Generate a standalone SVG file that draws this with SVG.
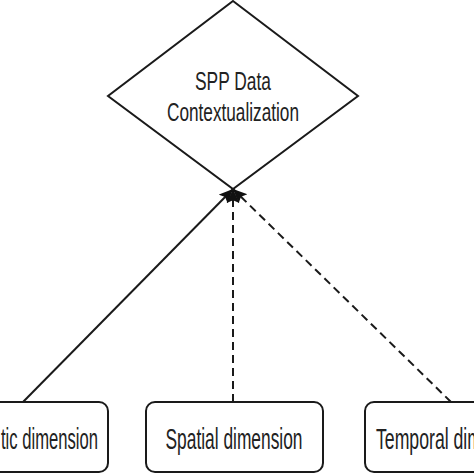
<svg xmlns="http://www.w3.org/2000/svg" width="474" height="474" viewBox="0 0 474 474">
<defs>
<style>
.shape{fill:#ffffff;stroke:#1a1a1a;stroke-width:2}
.conn{fill:none;stroke:#1a1a1a;stroke-width:2}
.dash{stroke-dasharray:8 5}
.lbl{font-family:"Liberation Sans",Arial,sans-serif;fill:#222222;text-anchor:middle}
</style>
<marker id="arr" viewBox="0 0 10 10" refX="10" refY="5" markerWidth="7" markerHeight="7" markerUnits="strokeWidth" orient="auto">
<path d="M0,0.5 L10,5 L0,9.5 L2,5 z" fill="#111111"/>
</marker>
</defs>
<rect width="474" height="474" fill="#ffffff"/>
<g id="connectors">
<line class="conn" x1="23" y1="402" x2="233" y2="189" marker-end="url(#arr)"/>
<line class="conn dash" x1="233" y1="402" x2="233" y2="189" marker-end="url(#arr)"/>
<line class="conn dash" x1="451" y1="402" x2="233" y2="189" marker-end="url(#arr)"/>
</g>
<g id="spp">
<polygon class="shape" points="233,1 358,96 233,189 108,96"/>
<text class="lbl" x="233" y="90" font-size="26" textLength="76" lengthAdjust="spacingAndGlyphs">SPP Data</text>
<text class="lbl" x="233" y="121" font-size="26" textLength="132" lengthAdjust="spacingAndGlyphs">Contextualization</text>
</g>
<g id="thematic">
<rect class="shape" x="-69" y="402" width="177" height="70" rx="9"/>
<text class="lbl" x="98" y="449" font-size="29" style="text-anchor:end" textLength="97" lengthAdjust="spacingAndGlyphs">tic dimension</text>
</g>
<g id="spatial">
<rect class="shape" x="146" y="402" width="177" height="70" rx="9"/>
<text class="lbl" x="234" y="449" font-size="29" textLength="137" lengthAdjust="spacingAndGlyphs">Spatial dimension</text>
</g>
<g id="temporal">
<rect class="shape" x="365" y="402" width="177" height="70" rx="9"/>
<text class="lbl" x="376" y="449" font-size="29" style="text-anchor:start" textLength="106" lengthAdjust="spacingAndGlyphs">Temporal dim</text>
</g>
</svg>
